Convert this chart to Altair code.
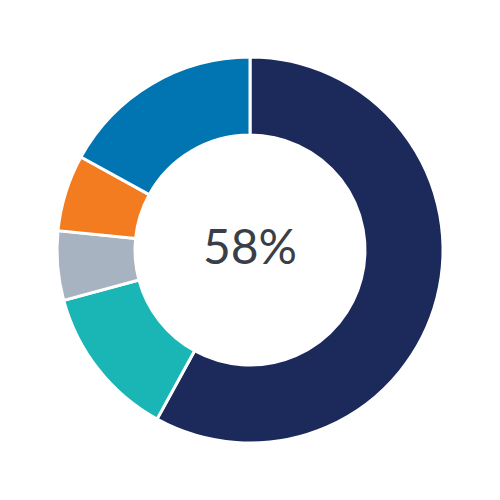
import altair as alt
import pandas as pd

categories = ["A", "B", "C", "D", "E"]
values = [58, 12.8, 5.8, 6.4, 17]
colors = ["#1b2a5a", "#1ab6b6", "#a8b3c1", "#f47c20", "#0075b2"]
center_label = ["58%"]

df = pd.DataFrame({"cat": categories, "val": values, "ord": list(range(len(categories)))})

donut = alt.Chart(df).mark_arc(outerRadius=193, innerRadius=115, stroke="white", strokeWidth=3).encode(
    theta=alt.Theta("val:Q", stack=True),
    order=alt.Order("ord:Q"),
    color=alt.Color("cat:N", scale=alt.Scale(domain=categories, range=colors), legend=None),
)

text = alt.Chart(pd.DataFrame({"t": center_label})).mark_text(
    font="Lato", fontSize=48, color="#3a3f47", align="center", baseline="middle"
).encode(text="t:N", x=alt.value(242), y=alt.value(242))

chart = (donut + text).properties(width=484, height=484, padding=0, autosize="none").configure_view(strokeWidth=0)

chart.save("out.html", embed_options={"renderer": "svg", "actions": False})
